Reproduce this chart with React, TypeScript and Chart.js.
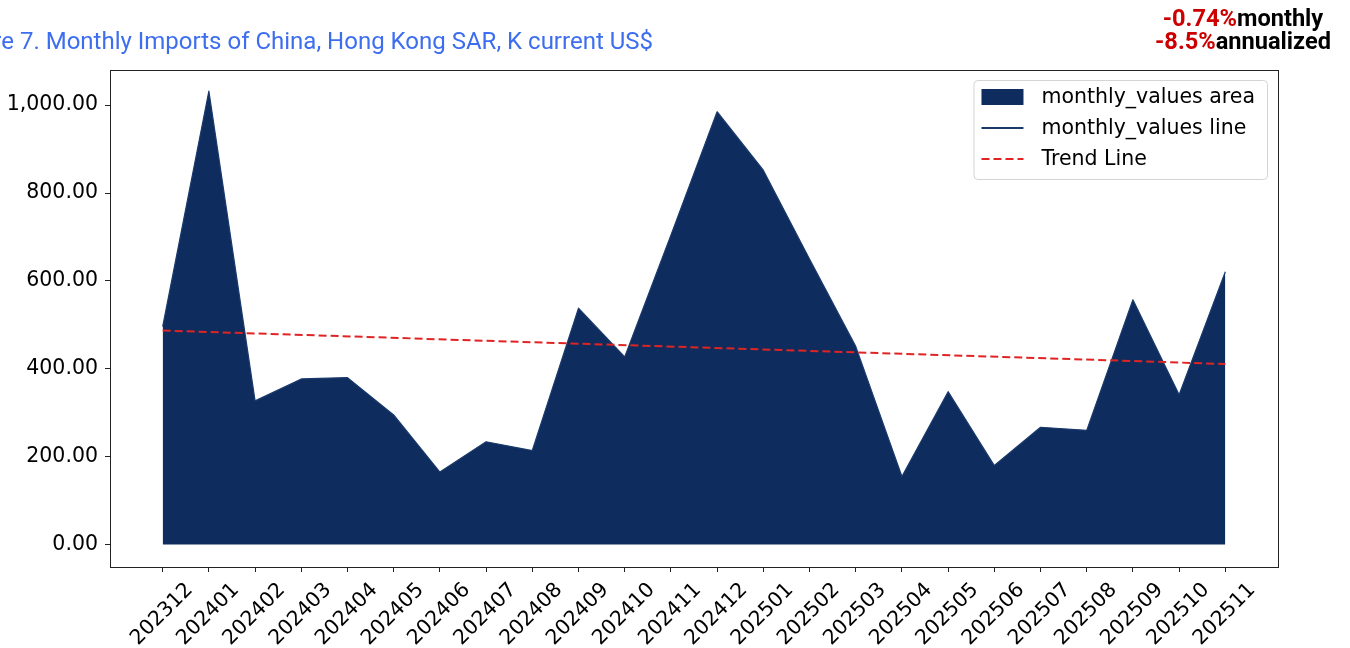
import React, { useEffect, useRef } from "react";
import { Chart, registerables } from "chart.js";

Chart.register(...registerables);

const months = [
  "202312", "202401", "202402", "202403", "202404", "202405", "202406", "202407",
  "202408", "202409", "202410", "202411", "202412", "202501", "202502", "202503",
  "202504", "202505", "202506", "202507", "202508", "202509", "202510", "202511",
];
const monthlyValues = [
  496, 1032, 327, 377, 380, 295, 165, 234, 214, 538, 427, 704,
  985, 852, 650, 451, 155, 348, 180, 267, 260, 557, 341, 621,
];
const trendEndValues = [487, 411];
const yTickValues = [0, 200, 400, 600, 800, 1000];
const titleText = "Figure 7. Monthly Imports of China, Hong Kong SAR, K current US$";
const monthlyRate = "-0.74%";
const annualRate = "-8.5%";

const AREA_COLOR = "#0e2d5e";
const LINE_COLOR = "#1a3a6c";
const TREND_COLOR = "#e02424";
const TICK_FONT = "DejaVu Sans";
const TICK_SIZE = 20.5;

const decorPlugin = {
  id: "decor",
  afterDraw(chart: any) {
    const ctx = chart.ctx as CanvasRenderingContext2D;
    const a = chart.chartArea;
    ctx.save();
    // frame
    ctx.strokeStyle = "#222";
    ctx.lineWidth = 1;
    ctx.strokeRect(Math.round(a.left) + 0.5, Math.round(a.top) + 0.5, Math.round(a.right - a.left), Math.round(a.bottom - a.top));

    // title
    ctx.font = "24px Roboto";
    ctx.fillStyle = "#3d6ef0";
    ctx.textAlign = "right";
    ctx.textBaseline = "alphabetic";
    ctx.fillText(titleText, 653, 49);

    // annotations
    ctx.font = "bold 23.6px Roboto";
    const drawPair = (red: string, black: string, cx: number, by: number) => {
      const w1 = ctx.measureText(red).width;
      const w2 = ctx.measureText(black).width;
      const sx = cx - (w1 + w2) / 2;
      ctx.textAlign = "left";
      ctx.fillStyle = "#cc0000";
      ctx.fillText(red, sx, by);
      ctx.fillStyle = "#000";
      ctx.fillText(black, sx + w1, by);
    };
    drawPair(monthlyRate, "monthly", 1243, 26);
    drawPair(annualRate, "annualized", 1243, 49);

    // legend
    const ds = chart.data.datasets;
    ctx.font = `${TICK_SIZE}px ${TICK_FONT}`;
    let maxW = 0;
    ds.forEach((d: any) => { maxW = Math.max(maxW, ctx.measureText(d.label).width); });
    const boxW = 8 + 42 + 18 + maxW + 12;
    const boxH = 99;
    const bx = a.right - 11 - boxW;
    const by = a.top + 10;
    ctx.beginPath();
    (ctx as any).roundRect(bx + 0.5, by + 0.5, boxW, boxH, 4);
    ctx.fillStyle = "rgba(255,255,255,0.85)";
    ctx.fill();
    ctx.strokeStyle = "#d4d4d4";
    ctx.lineWidth = 1;
    ctx.stroke();
    ds.forEach((d: any, i: number) => {
      const cy = by + 17 + i * 31;
      const hx = bx + 8;
      if (d.fill) {
        ctx.fillStyle = d.backgroundColor;
        ctx.fillRect(hx, cy - 8, 42, 16);
      } else {
        ctx.beginPath();
        ctx.strokeStyle = d.borderColor;
        ctx.lineWidth = Math.max(2, d.borderWidth);
        ctx.setLineDash(d.borderDash || []);
        ctx.moveTo(hx, cy);
        ctx.lineTo(hx + 42, cy);
        ctx.stroke();
        ctx.setLineDash([]);
      }
      ctx.fillStyle = "#000";
      ctx.textAlign = "left";
      ctx.textBaseline = "middle";
      ctx.fillText(d.label, hx + 42 + 18, cy + 1);
    });
    ctx.restore();
  },
};

export default function App() {
  const ref = useRef<HTMLCanvasElement | null>(null);
  useEffect(() => {
    if (!ref.current) return;
    const points = monthlyValues.map((v, i) => ({ x: i, y: v }));
    const trendPoints = [
      { x: 0, y: trendEndValues[0] },
      { x: months.length - 1, y: trendEndValues[1] },
    ];
    const chart = new Chart(ref.current, {
      type: "line",
      data: {
        datasets: [
          {
            label: "monthly_values area",
            data: points,
            fill: "origin",
            backgroundColor: AREA_COLOR,
            borderWidth: 0,
            borderColor: AREA_COLOR,
            pointRadius: 0,
            tension: 0,
            order: 3,
          },
          {
            label: "monthly_values line",
            data: points,
            fill: false,
            borderColor: LINE_COLOR,
            borderWidth: 1.2,
            borderJoinStyle: "round",
            pointRadius: 0,
            tension: 0,
            order: 2,
          },
          {
            label: "Trend Line",
            data: trendPoints,
            fill: false,
            borderColor: TREND_COLOR,
            borderWidth: 2,
            borderDash: [8, 4],
            pointRadius: 0,
            tension: 0,
            order: 1,
          },
        ],
      },
      options: {
        animation: false,
        responsive: false,
        devicePixelRatio: 1,
        layout: { padding: { top: 70, right: 72, left: 0, bottom: 0 } },
        plugins: { legend: { display: false }, tooltip: { enabled: false }, title: { display: false } },
        scales: {
          x: {
            type: "linear",
            min: -1.14,
            max: months.length - 1 + 1.14,
            afterBuildTicks: (scale: any) => {
              scale.ticks = months.map((_, i) => ({ value: i }));
            },
            afterFit: (scale: any) => { scale.height = 81; },
            ticks: {
              autoSkip: false,
              maxRotation: 45,
              minRotation: 45,
              labelOffset: 27,
              padding: 6,
              color: "#000",
              font: { family: TICK_FONT, size: TICK_SIZE },
              callback: (v: any) => months[Math.round(Number(v))] ?? "",
            },
            grid: { drawOnChartArea: false, drawTicks: true, tickLength: 5, color: "#222" },
            border: { display: true, color: "#222" },
          },
          y: {
            type: "linear",
            min: -51,
            max: 1080,
            afterBuildTicks: (scale: any) => {
              scale.ticks = yTickValues.map((v) => ({ value: v }));
            },
            afterFit: (scale: any) => { scale.width = 110; },
            ticks: {
              padding: 7,
              color: "#000",
              font: { family: TICK_FONT, size: TICK_SIZE },
              callback: (v: any) =>
                Number(v).toLocaleString("en-US", { minimumFractionDigits: 2, maximumFractionDigits: 2 }),
            },
            grid: { drawOnChartArea: false, drawTicks: true, tickLength: 5, color: "#222" },
            border: { display: true, color: "#222" },
          },
        },
      },
      plugins: [decorPlugin],
    } as any);
    return () => chart.destroy();
  }, []);
  return (
    <div style={{ position: "absolute", left: 0, top: 0, width: 1350, height: 648, background: "#fff" }}>
      <canvas ref={ref} width={1350} height={648} style={{ display: "block" }} />
    </div>
  );
}
